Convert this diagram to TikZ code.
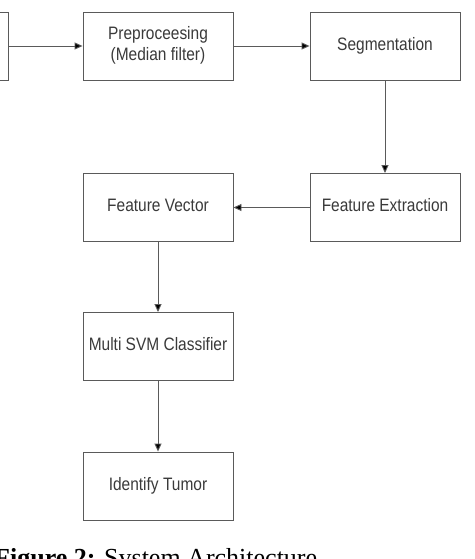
\documentclass[tikz,border=0pt]{standalone}
\usepackage{fontspec}
\setmainfont{Liberation Serif}
\newfontfamily\boxfont{Liberation Sans}
\usetikzlibrary{arrows.meta}
\definecolor{edgegray}{HTML}{5A5A5A}
\definecolor{txtgray}{HTML}{3A3A3A}
\newcommand{\cond}[1]{\scalebox{0.86}[1]{\begin{tabular}{@{}c@{}}#1\end{tabular}}}
\tikzset{
  procbox/.style={draw=edgegray, line width=0.9pt, minimum width=150pt, minimum height=68pt,
    inner sep=0pt, text=txtgray, font=\boxfont\fontsize{18}{20.5}\selectfont},
  flow/.style={draw=edgegray, line width=0.9pt, -{Triangle[length=8pt,width=7pt,fill=black]}}
}
\begin{document}
\begin{tikzpicture}[x=1pt,y=-1pt]
\useasboundingbox (0,0) rectangle (474,559);
\fill[white] (0,0) rectangle (474,559);
\clip (0,0) rectangle (474,559);
\node[procbox] (input) at (-67,46) {};
\node[procbox] (pre) at (158,46) {\cond{Preproceesing\\(Median filter)}};
\node[procbox] (seg) at (385,46) {\cond{Segmentation}};
\node[procbox] (fext) at (385,207.5) {\cond{Feature Extraction}};
\node[procbox] (fvec) at (158,207.5) {\cond{Feature Vector}};
\node[procbox] (svm) at (158,346.5) {\cond{Multi SVM Classifier}};
\node[procbox] (tum) at (158,486) {\cond{Identify Tumor}};
\draw[flow] (input) -- (pre);
\draw[flow] (pre) -- (seg);
\draw[flow] (seg) -- (fext);
\draw[flow] (fext) -- (fvec);
\draw[flow] (fvec) -- (svm);
\draw[flow] (svm) -- (tum);
\node[anchor=base west, inner sep=0pt, font=\fontsize{26}{28}\selectfont] (cap) at (-6,566)
  {\textbf{Figure 2:} System Architecture};
\end{tikzpicture}
\end{document}
